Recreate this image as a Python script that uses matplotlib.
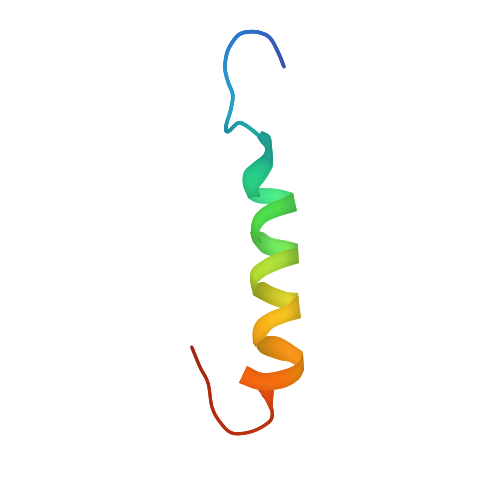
import numpy as np
import matplotlib
matplotlib.use('Agg')
import matplotlib.pyplot as plt
from matplotlib.collections import PolyCollection
from matplotlib.colors import to_rgb

# tube parts, picture coordinates
coil_top_x = [284, 278, 270, 260, 250, 240, 232.7, 227, 225, 228, 232.7, 230.7, 226.7, 226, 229, 238, 245, 253, 260]
coil_top_y = [66.7, 52, 38, 32.7, 31.7, 34, 41.7, 53, 68, 81.7, 95, 110, 123, 130, 131, 123, 125, 130.7, 136.7]
coil_top_c = ['#3a50a8', '#3a58b4', '#3560bc', '#2f68c4', '#2b6ecc', '#2a74d0', '#2a7cd0', '#2a84ce', '#2a8cd0',
              '#2a94d0', '#289ccc', '#28a0c8', '#22a0b8', '#1c8ca0', '#1c8ca0', '#20a0a8', '#20a4a8', '#20a8a4', '#20a89c']
coil_end_x = [191.7, 200, 208, 212, 220, 232, 250, 265, 272, 270, 263]
coil_end_y = [347, 367, 383, 407, 422, 433, 432, 425, 417, 403, 395]
coil_end_c = ['#9c2610', '#a42810', '#ac2a10', '#b02c10', '#b42e10', '#b83010', '#bc3210', '#c03410', '#b03010', '#c83c10', '#dc4c10']

# ribbon strips: edge a, edge b and colour per station
s1_a = [(257, 137), (261, 143), (265, 148), (263, 155), (253, 163), (244, 172), (243, 185), (248, 197)]
s1_b = [(262, 131), (270, 136), (272, 147), (273, 162), (272, 168), (265, 180), (259, 188), (260, 197)]
s1_c = ['#1e9c94', '#1fa092', '#1e9c8c', '#1f9f88', '#22bc8a', '#26cc88', '#28c87e', '#26b070']

s2_a = [(246, 190), (257, 188), (277, 189), (293, 193)]
s2_b = [(248, 198), (258, 203), (275, 204), (295, 206)]
s2_c = ['#2ab878', '#40dc88', '#50ee88', '#48d070']

s3_a = [(293, 193), (283, 198), (267, 205), (255, 215), (251, 228), (252, 240)]
s3_b = [(297, 211), (277, 217), (265, 223), (259, 232), (260, 238), (262, 243)]
s3_c = ['#48b848', '#4cd84c', '#4cdc4c', '#50d848', '#48c040', '#48b040']

s4_a = [(250, 232), (262, 232), (272, 238), (287, 241), (298, 244)]
s4_b = [(253, 242), (263, 253), (277, 257), (290, 260), (298, 263)]
s4_c = ['#48b040', '#5cc850', '#70e860', '#78e858', '#70b040']

s5_a = [(298, 248), (283, 251), (267, 258), (253, 268), (250, 278), (252, 290)]
s5_b = [(299, 263), (283, 268), (267, 275), (258, 282), (258, 285), (256, 292)]
s5_c = ['#7cac30', '#a4d838', '#b4e038', '#b0d830', '#a0c028', '#8ca020']

s6_a = [(252, 288), (262, 282), (273, 287), (287, 292), (298, 293)]
s6_b = [(253, 295), (262, 300), (275, 306), (290, 310), (299, 313)]
s6_c = ['#909820', '#a8a820', '#c8c428', '#e0d830', '#c8b828']

s7_a = [(298, 295), (287, 305), (270, 312), (258, 320), (253, 330), (253, 343)]
s7_b = [(301, 318), (287, 322), (273, 328), (265, 337), (258, 343), (256, 347)]
s7_c = ['#c8a020', '#f0c020', '#f8bc1c', '#f0ac18', '#e89c18', '#c08010']

s8_a = [(256, 342), (260, 338), (273, 336), (285, 340), (303, 352)]
s8_b = [(257, 348), (263, 354), (280, 360), (290, 362), (300, 368)]
s8_c = ['#a87010', '#c08014', '#e88c14', '#f8941a', '#f09018']

s9_a = [(303, 353), (298, 363), (283, 370), (263, 373), (247, 366)]
s9_b = [(304, 370), (298, 380), (283, 388), (260, 390), (239, 383)]
s9_c = ['#c87810', '#e08010', '#f07010', '#f06810', '#f06010']

s10_a = [(258, 390), (264, 398), (270, 410)]
s10_b = [(274, 390), (273, 400), (272, 410)]
s10_c = ['#e05010', '#d84810', '#c03c10']

# light across the ribbon width
band_shade = [0.96, 1.0, 1.02, 1.02, 1.0, 0.96]


def smooth(pts, n=14):
    # catmull-rom, only to round the drawn edge
    p = np.array(pts, dtype=float)
    p = np.vstack([2 * p[0] - p[1], p, 2 * p[-1] - p[-2]])
    out = []
    for i in range(1, len(p) - 2):
        for t in np.linspace(0, 1, n, endpoint=False):
            out.append(0.5 * (2 * p[i] + (p[i + 1] - p[i - 1]) * t
                              + (2 * p[i - 1] - 5 * p[i] + 4 * p[i + 1] - p[i + 2]) * t ** 2
                              + (3 * p[i] - p[i - 1] - 3 * p[i + 1] + p[i + 2]) * t ** 3))
    out.append(p[-2])
    return np.array(out)


def ramp(cols, count):
    rgb = np.array([to_rgb(c) for c in cols])
    pos = np.linspace(0, 1, len(cols))
    t = np.linspace(0, 1, count)
    return np.column_stack([np.interp(t, pos, rgb[:, k]) for k in range(3)])


def strip(ax, a, b, cols, z):
    ea, eb = smooth(a), smooth(b)
    rgb = ramp(cols, len(ea))
    nb = len(band_shade)
    quads, fc = [], []
    # each quad overlaps the next one so no seams show
    for j in range(nb):
        t0, t1 = j / nb, min(1, (j + 1.6) / nb)
        p0 = ea + (eb - ea) * t0
        p1 = ea + (eb - ea) * t1
        for i in range(len(ea) - 1):
            k = min(i + 2, len(ea) - 1)
            quads.append([p0[i], p0[k], p1[k], p1[i]])
            fc.append(np.clip(rgb[i] * band_shade[j], 0, 1))
    ax.add_collection(PolyCollection(quads, facecolors=fc, edgecolors='none', zorder=z))


def tube(ax, xs, ys, cols, w, z):
    line = smooth(list(zip(xs, ys)))
    rgb = ramp(cols, len(line) - 1)
    for i in range(len(line) - 1):
        ax.plot(line[i:i + 2, 0], line[i:i + 2, 1], color=rgb[i], lw=w, solid_capstyle='round', zorder=z)


fig = plt.figure(figsize=(5, 5), dpi=100)
ax = fig.add_axes([0, 0, 1, 1])
ax.set_xlim(0, 500)
ax.set_ylim(500, 0)
ax.axis('off')

tube(ax, coil_top_x, coil_top_y, coil_top_c, 2.6, 1)
tube(ax, coil_end_x, coil_end_y, coil_end_c, 2.3, 1)

# back strips first
strip(ax, s2_a, s2_b, s2_c, 2)
strip(ax, s4_a, s4_b, s4_c, 2)
strip(ax, s6_a, s6_b, s6_c, 2)
strip(ax, s8_a, s8_b, s8_c, 2)
strip(ax, s10_a, s10_b, s10_c, 2)

strip(ax, s1_a, s1_b, s1_c, 3)
strip(ax, s3_a, s3_b, s3_c, 3)
strip(ax, s5_a, s5_b, s5_c, 3)
strip(ax, s7_a, s7_b, s7_c, 3)
strip(ax, s9_a, s9_b, s9_c, 3)

fig.savefig('out.png', dpi=100)
